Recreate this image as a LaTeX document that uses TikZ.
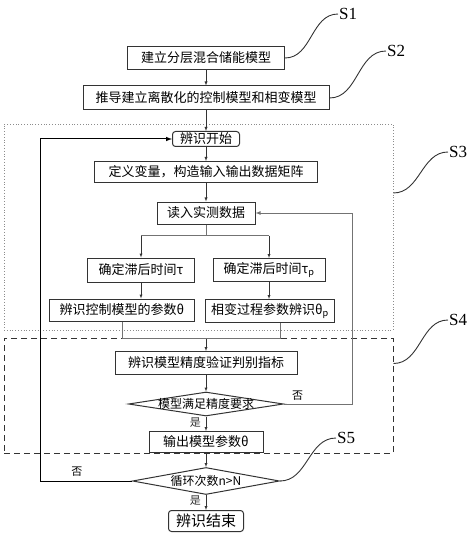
\documentclass[tikz,border=0pt]{standalone}
\usepackage{fontspec}
\setmainfont{Noto Sans CJK SC}
\newfontfamily\steplabelfont{Liberation Serif}
\usepackage{tikz}
\usetikzlibrary{positioning}
\usetikzlibrary{shapes.geometric}
\usetikzlibrary{calc}
\colorlet{frame}{black!80}
\colorlet{wire}{black!55}

\begin{document}
\begin{tikzpicture}[
  x=1pt, y=1pt,
  box/.style={draw=frame, line width=1pt, inner sep=0pt, font=\fontsize{13}{15}\selectfont},
  roundbox/.style={box, rounded corners=3pt},
  decision/.style={draw=frame, line width=1pt, diamond, aspect=6, inner sep=-1.5pt, font=\fontsize{12}{14}\selectfont},
  steplabel/.style={font=\steplabelfont\fontsize{17}{19}\selectfont, inner sep=1pt},
  answer/.style={font=\fontsize{11}{13}\selectfont, inner sep=1pt},
  leader/.style={line width=0.9pt, frame}
]
\useasboundingbox (0,0) rectangle (474,-537);

% Groups
\node[draw=black!45, dotted, line width=0.8pt, minimum width=389, minimum height=206, inner sep=0pt] (s3box) at (198.5,-227) {};
\node[draw=frame, dash pattern=on 6pt off 4pt, line width=1pt, minimum width=389, minimum height=115, inner sep=0pt] (s4box) at (198.5,-395.5) {};

% Model building
\node[box, minimum width=157, minimum height=23] (hybrid) at (206,-58) {建立分层混合储能模型};
\node[box, minimum width=246, minimum height=24] (discrete) at (206,-98) {推导建立离散化的控制模型和相变模型};

% Identification
\node[roundbox, minimum width=67, minimum height=15] (start) at (206,-139) {辨识开始};
\node[box, minimum width=223, minimum height=21] (define) at (206,-172) {定义变量，构造输入输出数据矩阵};
\node[box, minimum width=98, minimum height=22] (read) at (206,-213) {读入实测数据};
\node[box, minimum width=107, minimum height=24] (tau) at (141,-270) {确定滞后时间τ};
\node[box, minimum width=112, minimum height=23] (taup) at (269,-270) {确定滞后时间τ\textsubscript{p}};
\node[box, minimum width=145, minimum height=22] (theta) at (122,-310) {辨识控制模型的参数θ};
\node[box, minimum width=129, minimum height=23] (thetap) at (270,-311) {相变过程参数辨识θ\textsubscript{p}};

% Validation
\node[box, minimum width=182, minimum height=23] (check) at (206,-363) {辨识模型精度验证判别指标};
\node[decision, minimum width=155, minimum height=24] (accurate) at (206,-404) {模型满足精度要求};
\node[box, minimum width=114, minimum height=21] (output) at (206,-442) {输出模型参数θ};
\node[decision, minimum width=147, minimum height=27] (loop) at (206,-481) {循环次数n>N};
\node[roundbox, minimum width=75, minimum height=21, font=\fontsize{15}{17}\selectfont] (finish) at (206,-521) {辨识结束};

% Step labels
\node[steplabel, anchor=west] (s1) at (338,-14) {S1};
\node[steplabel, anchor=west] (s2) at (386,-51) {S2};
\node[steplabel, anchor=west] (s3) at (448,-152) {S3};
\node[steplabel, anchor=west] (s4) at (448,-320) {S4};
\node[steplabel, anchor=west] (s5) at (336,-438) {S5};
\draw[leader] (hybrid.east) to[out=0, in=180] (s1.west);
\draw[leader] (discrete.east) to[out=0, in=180] (s2.west);
\draw[leader] ([yshift=34pt]s3box.east) to[out=0, in=180] (s3.west);
\draw[leader] ([yshift=32pt]s4box.east) to[out=0, in=180] (s4.west);
\draw[leader] (loop.east) to[out=0, in=180] (s5.west);

% Main flow
\draw[-latex, frame] (hybrid) -- (discrete);
\draw[-latex, frame] (discrete) -- (start);
\draw[-latex, frame] (start) -- (define);
\draw[-latex, frame] (define) -- (read);
\draw[wire] (read.south) -- ++(0,-11) coordinate (split);
\draw[wire] (split -| tau.north) -- (split -| taup.north);
\draw[-latex, frame] (split -| tau.north) -- (tau.north);
\draw[-latex, frame] (split -| taup.north) -- (taup.north);
\draw[-latex, frame] (tau.south) -- (tau.south |- theta.north);
\draw[-latex, frame] (taup.south) -- (taup.south |- thetap.north);
\draw[wire] (theta.south) -- ++(0,-17) coordinate (merge1);
\draw[wire] ([xshift=10pt]thetap.south) -- ([xshift=10pt]thetap.south |- merge1);
\draw[wire] (merge1) -- ([xshift=10pt]thetap.south |- merge1);
\draw[-latex, frame] (merge1 -| check.north) -- (check.north);
\draw[-latex, frame] (check) -- (accurate);
\draw[-latex, frame] (accurate) -- node[answer, left=4pt, pos=0.45] {是} (output);
\draw[-latex, frame] (output) -- (loop);
\draw[-latex, frame] (loop) -- node[answer, left=4pt, pos=0.4] {是} (finish);

% Loops back
\draw[-latex, wire, line width=0.8pt] (accurate.east) -- node[answer, above=2pt, pos=0.2, black] {否} ++(68,0) |- (read.east);
\draw[-latex, black, line width=1pt] (loop.west) -- node[answer, above=3pt, pos=0.6] {否} ++(-92,0) |- (start.west);
\end{tikzpicture}
\end{document}
